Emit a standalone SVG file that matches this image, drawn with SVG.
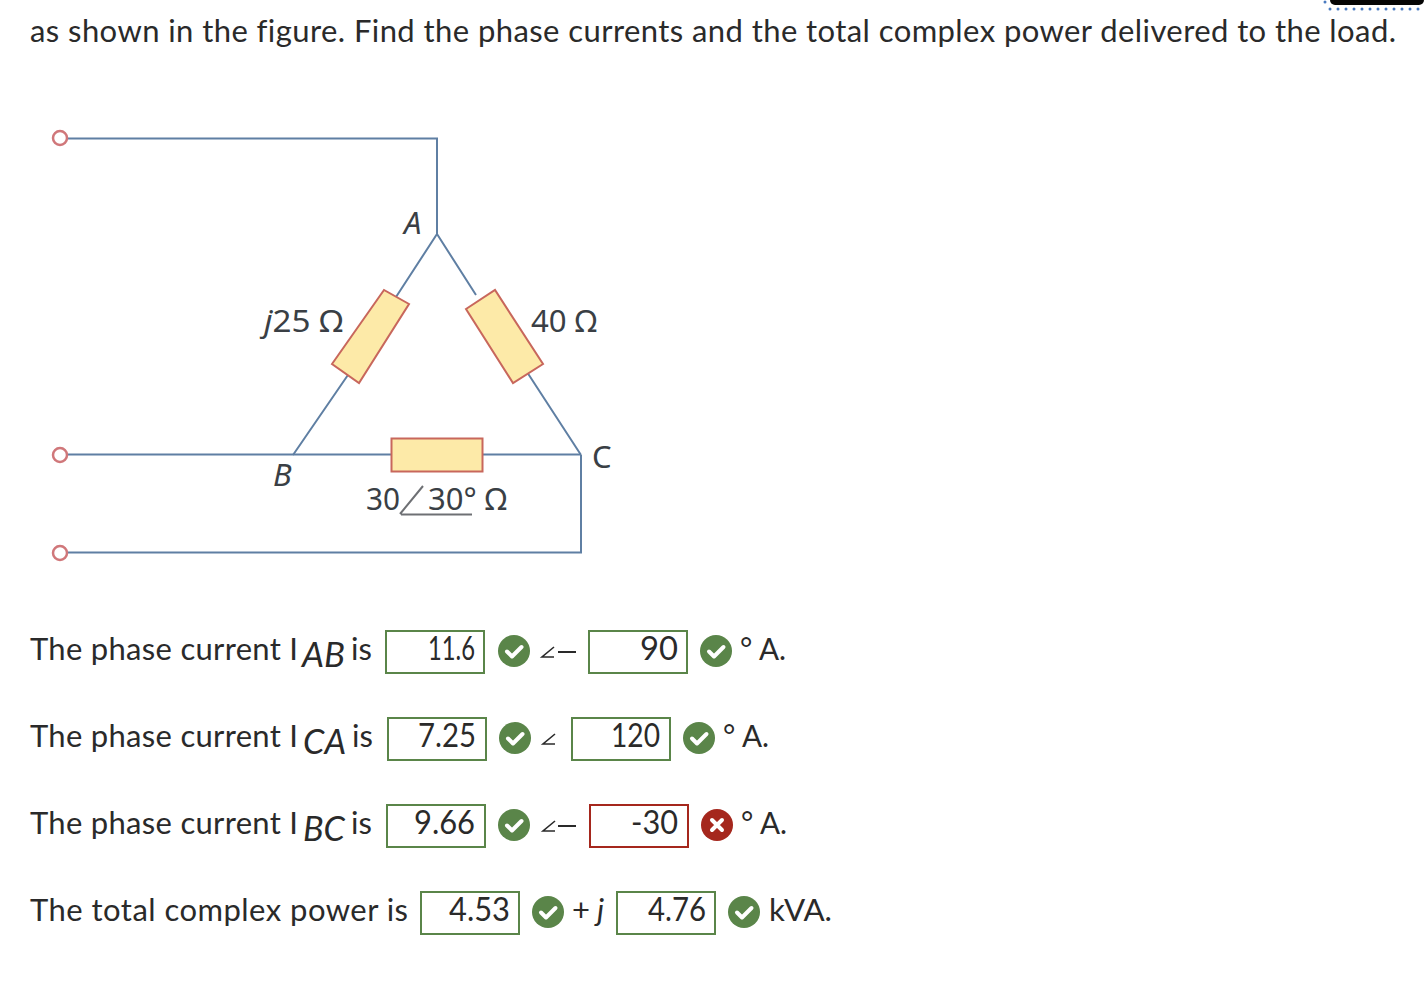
<svg xmlns="http://www.w3.org/2000/svg" width="1424" height="1002" viewBox="0 0 1424 1002">
<style>
text{font-family:"Lato","Noto Sans","Liberation Sans",sans-serif;fill:#2a2a2a;font-variant-ligatures:none}
.t{font-size:31px}
.l{font-size:32px;text-anchor:end}
.s{font-size:34px;font-style:italic}
.d{font-size:31px;font-family:"Noto Sans","Liberation Sans",sans-serif;fill:#3a3f45}
.i{font-style:italic}
.wire{fill:none;stroke:#5f7fa3;stroke-width:2}
.term{fill:#fff;stroke:#d0777a;stroke-width:2.5}
.res{fill:#fdeaa8;stroke:#c8675c;stroke-width:2}
.ok{fill:none;stroke:#5a8549;stroke-width:2}
.bad{fill:none;stroke:#a5271d;stroke-width:2}
.cg{fill:#5a8549}.cr{fill:#a5271d}
.ck{fill:none;stroke:#fff;stroke-width:4;stroke-linecap:round;stroke-linejoin:round}
.ang{fill:none;stroke:#2a2a2a;stroke-width:1.6}
</style>
<defs>
<g id="check"><circle class="cg" r="16"/><path class="ck" d="M-7 0.500L-2 5.500L7.500-4"/></g>
<g id="cross"><circle class="cr" r="16"/><path class="ck" d="M-5-5L5 5M5-5L-5 5"/></g>
<path id="angle" class="ang" d="M13-6L1 4H13"/>
</defs>
<g id="top-marker"><rect x="1330" y="-8" width="94" height="13" rx="5" fill="#050505"/><circle cx="1325" cy="2" r="1.500" fill="#4a7bc0"/><path d="M1330 9H1424" stroke="#4a7bc0" stroke-width="3" stroke-linecap="round" stroke-dasharray="0 8" fill="none"/></g>
<text class="t" x="30" y="42" textLength="1366">as shown in the figure. Find the phase currents and the total complex power delivered to the load.</text>
<g id="connectors">
<path class="wire" d="M68 138.500H437V234L396 297M350 372L293 455"/>
<path class="wire" d="M437 234L476 295M527 372L581 455"/>
<path class="wire" d="M68 454.500H391M483 454.500H581"/>
<path class="wire" d="M581 455V552.500H68"/>
</g>
<g id="terminal-1"><circle class="term" cx="60" cy="138" r="7"/></g>
<g id="terminal-2"><circle class="term" cx="60" cy="455" r="7"/></g>
<g id="terminal-3"><circle class="term" cx="60" cy="553" r="7"/></g>
<g id="node-A"><text class="d i" x="404" y="234">A</text></g>
<g id="node-B"><text class="d i" x="273" y="486">B</text></g>
<g id="node-C"><text class="d" x="592" y="468">C</text></g>
<g id="resistor-j25"><path class="res" d="M332 364L384 290L409 304L359 383Z"/><text class="d" x="264" y="332" textLength="79" lengthAdjust="spacingAndGlyphs"><tspan class="i">j</tspan>25 Ω</text></g>
<g id="resistor-40"><path class="res" d="M466 309L495 290L543 364L513 383Z"/><text class="d" x="531" y="332" textLength="66" lengthAdjust="spacingAndGlyphs">40 Ω</text></g>
<g id="resistor-30"><rect class="res" x="391.500" y="438.500" width="91" height="33"/><text class="d" x="366" y="510" textLength="34" lengthAdjust="spacingAndGlyphs">30</text><path d="M400 514L423 486M401 514.500H472" fill="none" stroke="#6e7074" stroke-width="2"/><text class="d" x="428" y="510" textLength="79" lengthAdjust="spacingAndGlyphs">30° Ω</text></g>

<g id="row-ab">
<text class="t" x="30" y="660" textLength="268">The phase current I</text><text class="s" x="302" y="667" textLength="43" lengthAdjust="spacingAndGlyphs">AB</text><text class="t" x="351" y="660">is</text>
<rect class="ok" x="386" y="631" width="98" height="42"/><text class="l" x="475" y="660" textLength="47" lengthAdjust="spacingAndGlyphs">11.6</text><use href="#check" x="514" y="651"/>
<use href="#angle" x="541" y="653"/><path d="M558 652H576" stroke="#2a2a2a" stroke-width="2"/>
<rect class="ok" x="589" y="631" width="98" height="42"/><text class="l" x="678" y="660" textLength="38" lengthAdjust="spacingAndGlyphs">90</text><use href="#check" x="716" y="651"/>
<text class="t" x="740" y="660" textLength="46" lengthAdjust="spacingAndGlyphs">° A.</text></g>
<g id="row-ca">
<text class="t" x="30" y="747" textLength="268">The phase current I</text><text class="s" x="303" y="754" textLength="43" lengthAdjust="spacingAndGlyphs">CA</text><text class="t" x="352" y="747">is</text>
<rect class="ok" x="388" y="718" width="98" height="42"/><text class="l" x="476" y="747" textLength="58" lengthAdjust="spacingAndGlyphs">7.25</text><use href="#check" x="515" y="738"/>
<use href="#angle" x="542" y="740"/>
<rect class="ok" x="572" y="718" width="98" height="42"/><text class="l" x="660" y="747" textLength="49" lengthAdjust="spacingAndGlyphs">120</text><use href="#check" x="699" y="738"/>
<text class="t" x="723" y="747" textLength="46" lengthAdjust="spacingAndGlyphs">° A.</text></g>
<g id="row-bc">
<text class="t" x="30" y="834" textLength="268">The phase current I</text><text class="s" x="303" y="841" textLength="42" lengthAdjust="spacingAndGlyphs">BC</text><text class="t" x="351" y="834">is</text>
<rect class="ok" x="387" y="805" width="98" height="42"/><text class="l" x="475" y="834" textLength="61" lengthAdjust="spacingAndGlyphs">9.66</text><use href="#check" x="514" y="825"/>
<use href="#angle" x="542" y="827"/><path d="M558 826H576" stroke="#2a2a2a" stroke-width="2"/>
<rect class="bad" x="590" y="805" width="98" height="42"/><text class="l" x="678" y="834" textLength="47" lengthAdjust="spacingAndGlyphs">-30</text><use href="#cross" x="717" y="825"/>
<text class="t" x="741" y="834" textLength="46" lengthAdjust="spacingAndGlyphs">° A.</text></g>
<g id="row-power">
<text class="t" x="30" y="921" textLength="378">The total complex power is</text>
<rect class="ok" x="421" y="892" width="98" height="42"/><text class="l" x="510" y="921" textLength="61" lengthAdjust="spacingAndGlyphs">4.53</text><use href="#check" x="548" y="912"/>
<text class="t" x="572" y="921">+</text><text class="t i" x="597" y="921">j</text>
<rect class="ok" x="617" y="892" width="98" height="42"/><text class="l" x="706" y="921" textLength="58" lengthAdjust="spacingAndGlyphs">4.76</text><use href="#check" x="744" y="912"/>
<text class="t" x="769" y="921" textLength="63" lengthAdjust="spacingAndGlyphs">kVA.</text></g>
</svg>
